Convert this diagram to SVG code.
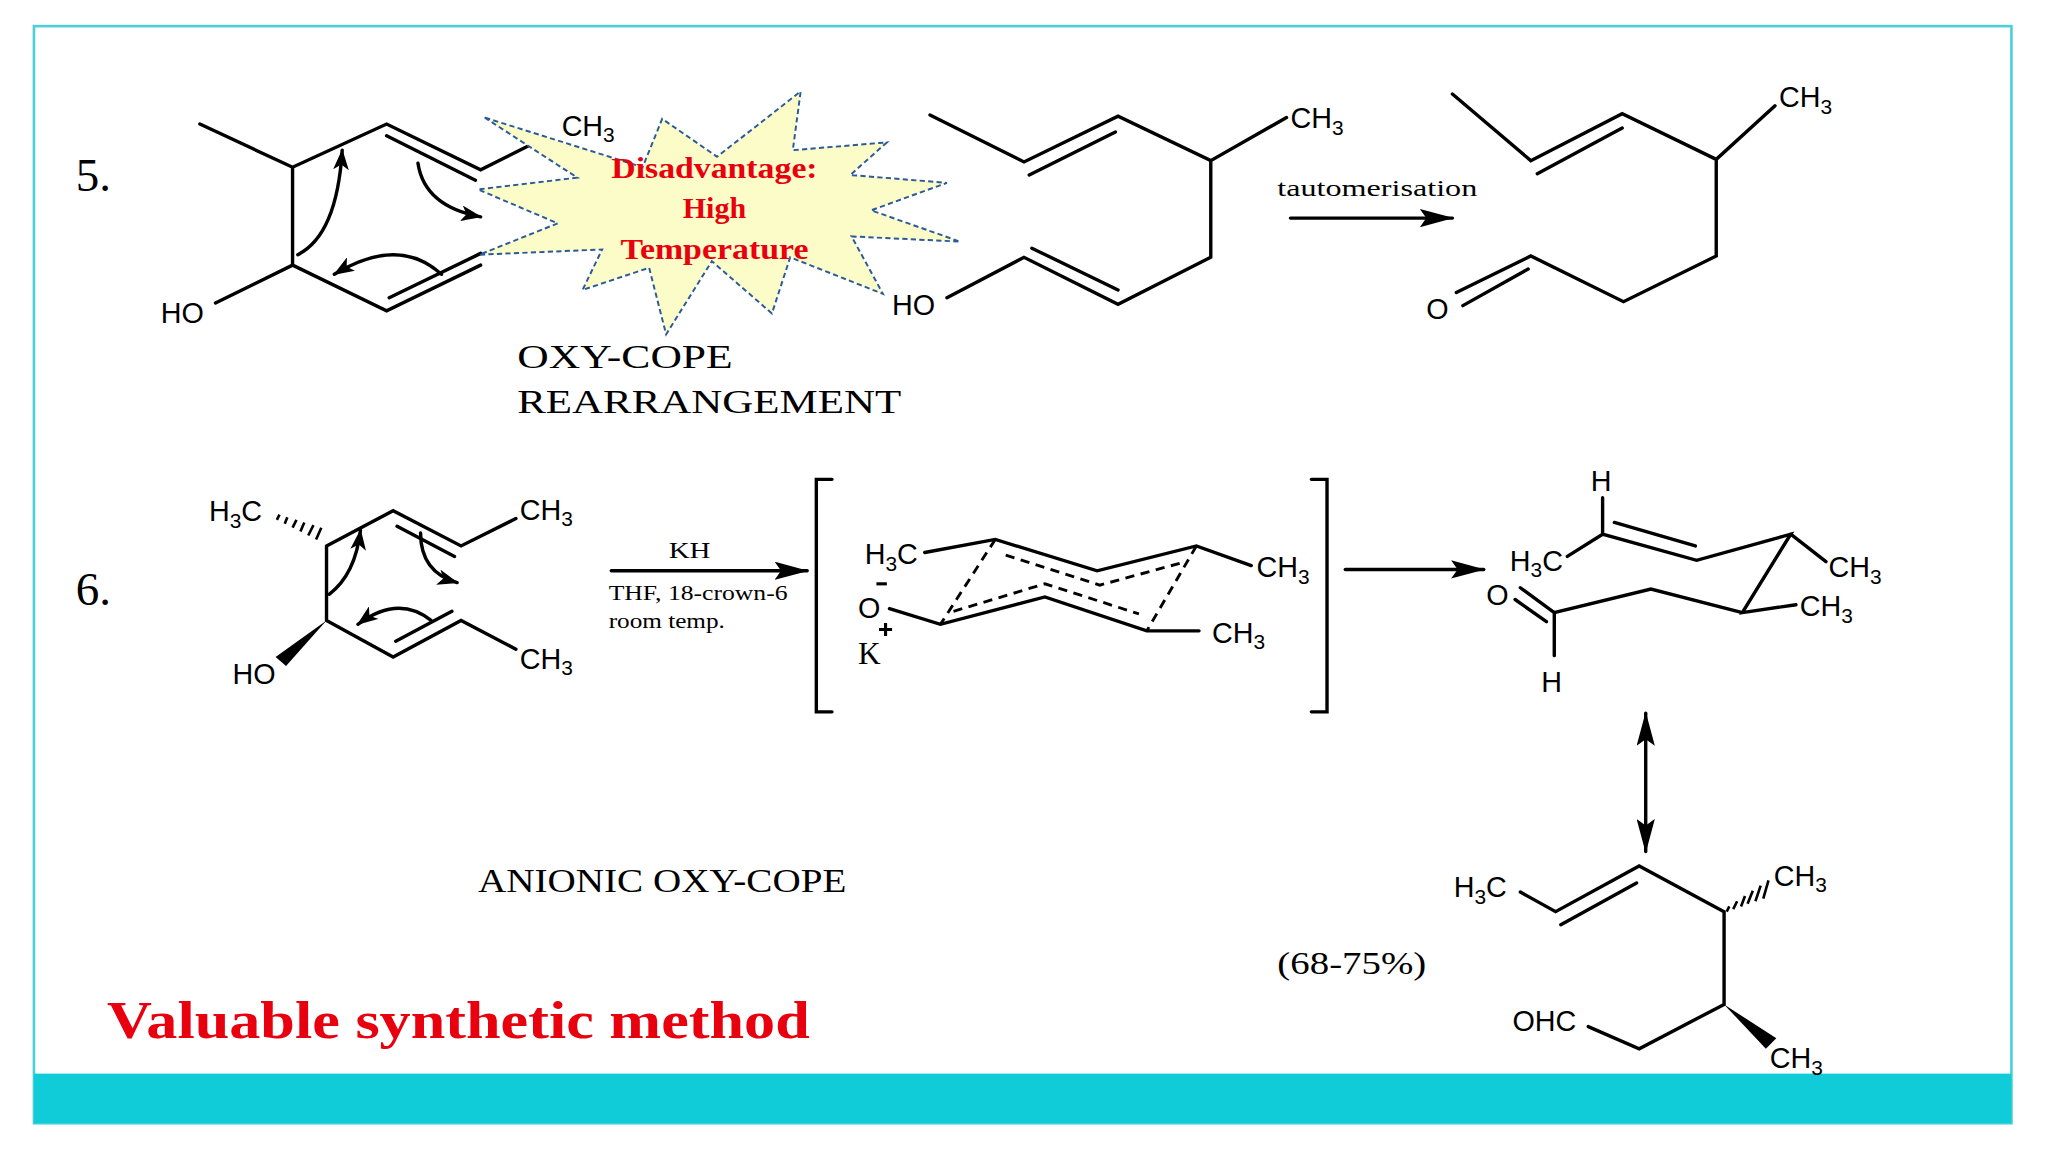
<svg xmlns="http://www.w3.org/2000/svg" width="2048" height="1152" viewBox="0 0 2048 1152">
<defs>
<style>
.b{stroke:#000;stroke-width:2.6;fill:none;stroke-linecap:round}
.d{stroke:#000;stroke-width:2.2;fill:none;stroke-dasharray:7 5}
.a{font-family:"Liberation Sans",Arial,sans-serif;font-size:22px;fill:#000}
.s{font-family:"Liberation Serif","Times New Roman",serif;fill:#000}
.r{font-family:"Liberation Serif","Times New Roman",serif;fill:#e8000e;font-weight:bold}
.sub{font-size:16px}
</style>
<marker id="big" markerWidth="26" markerHeight="14" refX="25" refY="7" orient="auto-start-reverse" markerUnits="userSpaceOnUse" viewBox="0 0 26 14"><path d="M0,0 L26,7 L0,14 L5,7 Z" fill="#000"/></marker>
<marker id="cur" markerWidth="16" markerHeight="12" refX="15" refY="6" orient="auto" markerUnits="userSpaceOnUse" viewBox="0 0 16 12"><path d="M0,0 L16,6 L0,12 L4,6 Z" fill="#000"/></marker>
</defs>
<rect width="2048" height="1152" fill="#fff"/>
<g transform="scale(1.30612)">
<g id="frame">
<rect x="26" y="20" width="1514" height="840" fill="none" stroke="#4ccfd6" stroke-width="2"/>
<rect x="26" y="822" width="1514" height="38" fill="#10ccd8"/>
</g>
<g id="labels">
<text class="s" x="58" y="146" font-size="36">5.</text>
<text class="s" x="58" y="463" font-size="36">6.</text>
<text class="s" x="396" y="282" font-size="26" textLength="165" lengthAdjust="spacingAndGlyphs">OXY-COPE</text>
<text class="s" x="396" y="316" font-size="26" textLength="294" lengthAdjust="spacingAndGlyphs">REARRANGEMENT</text>
<text class="s" x="366" y="683" font-size="26" textLength="282" lengthAdjust="spacingAndGlyphs">ANIONIC OXY-COPE</text>
<text class="s" x="978" y="746" font-size="24" textLength="114" lengthAdjust="spacingAndGlyphs">(68-75%)</text>
<text class="r" x="82" y="795" font-size="40" textLength="538" lengthAdjust="spacingAndGlyphs">Valuable synthetic method</text>
</g>
<g id="mol1">
<path class="b" d="M153,95 L224,128 L296,95 L368,130 L404,112 M296,104 L364,138 M224,128 L224,203 L296,238 L368,203 M298,228 L368,194 M224,203 L165,232"/>
<path class="b" d="M228,195 Q258,180 262,115" marker-end="url(#cur)"/>
<path class="b" d="M320,125 Q325,158 368,166" marker-end="url(#cur)"/>
<path class="b" d="M338,210 Q305,180 256,210" marker-end="url(#cur)"/>
<text class="a" x="123" y="247">HO</text>
</g>
<g id="burst">
<polygon points="371,90 442,136 366,145 427,171 367,195 461,191 446,222 497,205 510,256 545,200 591,240 605,197 676,225 652,181 735,185 667,161 725,140 651,134 679,109 607,115 613,70 549,120 507,91 492,128" fill="#fcfcc8" stroke="#2a5a9a" stroke-width="1.5" stroke-dasharray="4 2.5"/>
<text class="r" font-size="23" text-anchor="middle"><tspan x="547" y="136" textLength="158" lengthAdjust="spacingAndGlyphs">Disadvantage:</tspan><tspan x="547" y="167">High</tspan><tspan x="547" y="198" textLength="144" lengthAdjust="spacingAndGlyphs">Temperature</tspan></text>
<text class="a" x="430" y="104">CH<tspan class="sub" dy="5">3</tspan></text>
</g>
<g id="mol2">
<path class="b" d="M712,88 L784,124 L856,89 L927,123 L985,90 M788,134 L854,101 M927,123 L927,197 L856,233 L784,197 L725,228 M856,222 L790,190"/>
<text class="a" x="988" y="98">CH<tspan class="sub" dy="5">3</tspan></text>
<text class="a" x="683" y="241">HO</text>
</g>
<g id="mol3">
<path class="b" d="M1112,72 L1172,123 L1242,87 L1314,122 L1359,81 M1177,133 L1242,98 M1314,122 L1314,196 L1243,231 L1172,196 L1115,224 M1170,206 L1120,234"/>
<text class="a" x="1362" y="82">CH<tspan class="sub" dy="5">3</tspan></text>
<text class="a" x="1092" y="244">O</text>
</g>
<g id="mol4">
<path class="b" d="M250,418 L301,391 L353,418 L395,397 M304,403 L348,426 M250,418 L250,475 L301,503 L353,475 L395,497 M303,491 L346,468"/>
<path d="M212,398 L214,394 M218,401 L220,396 M224,404 L227,398 M230,407 L233,400 M236,410 L240,402 M242,413 L246,404" stroke="#000" stroke-width="2"/>
<path d="M250,475 L211,503 L219,510 Z" fill="#000"/>
<path class="b" d="M252,455 Q272,440 276,406" marker-end="url(#cur)"/>
<path class="b" d="M322,408 Q322,438 350,446" marker-end="url(#cur)"/>
<path class="b" d="M330,475 Q305,455 274,478" marker-end="url(#cur)"/>
<text class="a" x="160" y="399">H<tspan class="sub" dy="5">3</tspan><tspan dy="-5">C</tspan></text>
<text class="a" x="398" y="398">CH<tspan class="sub" dy="5">3</tspan></text>
<text class="a" x="398" y="512">CH<tspan class="sub" dy="5">3</tspan></text>
<text class="a" x="178" y="524">HO</text>
</g>
<g id="conditions">
<text class="s" x="512" y="427" font-size="18" textLength="32" lengthAdjust="spacingAndGlyphs">KH</text>
<text class="s" x="466" y="459" font-size="16" textLength="137" lengthAdjust="spacingAndGlyphs">THF, 18-crown-6</text>
<text class="s" x="466" y="481" font-size="16" textLength="89" lengthAdjust="spacingAndGlyphs">room temp.</text>
</g>
<g id="intermediate">
<path class="b" d="M637,367 L625,367 L625,545 L637,545 M1004,367 L1016,367 L1016,545 L1004,545" stroke-linecap="butt"/>
<path class="b" d="M708,423 L762,413 L840,437 L916,418 L958,433 M681,466 L720,478 L800,457 L878,483 L918,483"/>
<path class="d" d="M762,413 L720,478 M916,418 L878,483 M730,468 L800,447 L872,470 M770,425 L842,448 L908,430"/>
<text class="a" x="662" y="432">H<tspan class="sub" dy="5">3</tspan><tspan dy="-5">C</tspan></text>
<text class="a" x="962" y="442">CH<tspan class="sub" dy="5">3</tspan></text>
<text class="a" x="928" y="492">CH<tspan class="sub" dy="5">3</tspan></text>
<text class="a" x="657" y="473">O</text>
<path d="M671,447 L679,447" stroke="#000" stroke-width="2.4"/>
<path d="M673,482 L683,482 M678,477 L678,487" stroke="#000" stroke-width="2.4"/>
<text class="s" x="657" y="508" font-size="24">K</text>
</g>
<g id="mol5">
<path class="b" d="M1227,381 L1227,409 L1299,429 L1371,409 L1334,469 L1375,463 M1200,426 L1227,409 M1236,400 L1298,418 M1371,409 L1398,430 M1334,469 L1264,451 L1190,469 L1190,502 M1190,469 L1164,450 M1184,476 L1160,459"/>
<text class="a" x="1218" y="376">H</text>
<text class="a" x="1156" y="437">H<tspan class="sub" dy="5">3</tspan><tspan dy="-5">C</tspan></text>
<text class="a" x="1400" y="442">CH<tspan class="sub" dy="5">3</tspan></text>
<text class="a" x="1378" y="472">CH<tspan class="sub" dy="5">3</tspan></text>
<text class="a" x="1138" y="463">O</text>
<text class="a" x="1180" y="530">H</text>
</g>
<g id="mol6">
<path class="b" d="M1164,683 L1191,698 L1255,663 L1320,698 L1320,769 L1255,803 L1216,786 M1195,708 L1253,676"/>
<path d="M1324,694 L1322,698 M1330,690 L1327,696 M1336,686 L1333,694 M1342,682 L1338,692 M1348,678 L1344,690 M1354,674 L1350,688" stroke="#000" stroke-width="2"/>
<path d="M1320,769 L1352,803 L1360,795 Z" fill="#000"/>
<text class="a" x="1113" y="687">H<tspan class="sub" dy="5">3</tspan><tspan dy="-5">C</tspan></text>
<text class="a" x="1358" y="678">CH<tspan class="sub" dy="5">3</tspan></text>
<text class="a" x="1158" y="789">OHC</text>
<text class="a" x="1355" y="818">CH<tspan class="sub" dy="5">3</tspan></text>
</g>
<g id="connectors">
<line class="b" x1="988" y1="167" x2="1112" y2="167" marker-end="url(#big)"/>
<line class="b" x1="468" y1="437" x2="618" y2="437" marker-end="url(#big)"/>
<line class="b" x1="1030" y1="436" x2="1136" y2="436" marker-end="url(#big)"/>
<line class="b" x1="1260" y1="546" x2="1260" y2="652" marker-start="url(#big)" marker-end="url(#big)"/>
</g>
<text class="s" x="978" y="150" font-size="18" textLength="153" lengthAdjust="spacingAndGlyphs">tautomerisation</text>
</g>
</svg>
